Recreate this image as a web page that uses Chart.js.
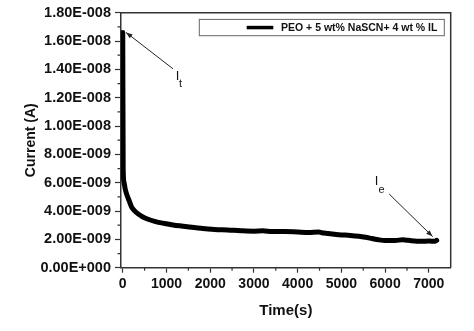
<!DOCTYPE html>
<html><head><meta charset="utf-8">
<script src="https://cdn.jsdelivr.net/npm/chart.js@4/dist/chart.umd.min.js"></script>
<style>html,body{margin:0;padding:0;background:#fff}#wrap{width:474px;height:331px;position:relative}</style>
</head><body><div id="wrap"><canvas id="c"></canvas></div>
<script>
// ---- data ----
const timeS = [0, 10, 30, 60, 100, 150, 200, 260, 350, 450, 580, 750, 960, 1150, 1340, 1520, 1720, 1900, 2100, 2400, 2700, 3000, 3200, 3420, 3700, 4000, 4250, 4480, 4550, 4700, 4940, 5200, 5400, 5550, 5700, 5850, 6000, 6230, 6400, 6460, 6600, 6830, 7000, 7140, 7180];
const currentA = [1.66e-8, 7.0e-9, 6.0e-9, 5.5e-9, 5.1e-9, 4.7e-9, 4.3e-9, 4.05e-9, 3.8e-9, 3.6e-9, 3.42e-9, 3.25e-9, 3.12e-9, 3.02e-9, 2.94e-9, 2.87e-9, 2.80e-9, 2.75e-9, 2.70e-9, 2.66e-9, 2.61e-9, 2.58e-9, 2.60e-9, 2.55e-9, 2.55e-9, 2.52e-9, 2.49e-9, 2.52e-9, 2.47e-9, 2.42e-9, 2.33e-9, 2.28e-9, 2.22e-9, 2.15e-9, 2.06e-9, 1.97e-9, 1.92e-9, 1.92e-9, 1.97e-9, 1.96e-9, 1.91e-9, 1.87e-9, 1.88e-9, 1.87e-9, 1.93e-9];
const seriesLabel = 'PEO + 5 wt% NaSCN+ 4 wt % IL';
const xTickValues = [0, 1000, 2000, 3000, 4000, 5000, 6000, 7000];
const xTickLabels = ['0', '1000', '2000', '3000', '4000', '5000', '6000', '7000'];
const xMinorTicks = [500, 1500, 2500, 3500, 4500, 5500, 6500];
const yTickValues = [0, 2e-9, 4e-9, 6e-9, 8e-9, 1e-8, 1.2e-8, 1.4e-8, 1.6e-8, 1.8e-8];
const yTickLabels = ['0.00E+000', '2.00E-009', '4.00E-009', '6.00E-009', '8.00E-009', '1.00E-008', '1.20E-008', '1.40E-008', '1.60E-008', '1.80E-008'];
const yMinorTicks = [1e-9, 3e-9, 5e-9, 7e-9, 9e-9, 1.1e-8, 1.3e-8, 1.5e-8, 1.7e-8];
const xTitle = 'Time(s)';
const yTitle = 'Current (A)';

const AXIS = '#333';
const FONT = 'Arial, "Liberation Sans", sans-serif';

const annotations = [
  {main: 'I', sub: 't', mainAt: [1251, 1.353e-8], subAt: [1320, 1.294e-8], tail: [1149, 1.404e-8], tip: [74, 1.661e-8]},
  {main: 'I', sub: 'e', mainAt: [5805, 6.08e-9], subAt: [5919, 5.5e-9], tail: [6093, 5.2e-9], tip: [7086, 2.2e-9]}
];

const extras = {
  id: 'extras',
  afterDatasetsDraw(chart) {
    const {ctx, chartArea: a, scales: {x, y}} = chart;
    ctx.save();
    // frame top / right
    ctx.strokeStyle = AXIS; ctx.lineWidth = 1.5;
    ctx.beginPath();
    ctx.moveTo(a.left, a.top); ctx.lineTo(a.right, a.top); ctx.lineTo(a.right, a.bottom);
    ctx.stroke();
    // minor ticks
    ctx.lineWidth = 1.2;
    ctx.beginPath();
    xMinorTicks.forEach(v => { const px = x.getPixelForValue(v); ctx.moveTo(px, a.bottom); ctx.lineTo(px, a.bottom + 3); });
    yMinorTicks.forEach(v => { const py = y.getPixelForValue(v); ctx.moveTo(a.left, py); ctx.lineTo(a.left - 3.5, py); });
    ctx.stroke();
    // annotations
    annotations.forEach(an => {
      const tx = x.getPixelForValue(an.tail[0]), ty = y.getPixelForValue(an.tail[1]);
      const hx = x.getPixelForValue(an.tip[0]), hy = y.getPixelForValue(an.tip[1]);
      ctx.strokeStyle = '#222'; ctx.fillStyle = '#222'; ctx.lineWidth = 1;
      ctx.beginPath(); ctx.moveTo(tx, ty); ctx.lineTo(hx, hy); ctx.stroke();
      const ang = Math.atan2(hy - ty, hx - tx), L = 7, W = 0.35;
      ctx.beginPath();
      ctx.moveTo(hx, hy);
      ctx.lineTo(hx - L * Math.cos(ang - W), hy - L * Math.sin(ang - W));
      ctx.lineTo(hx - L * Math.cos(ang + W), hy - L * Math.sin(ang + W));
      ctx.closePath(); ctx.fill();
      ctx.fillStyle = '#111';
      ctx.textAlign = 'center'; ctx.textBaseline = 'middle';
      ctx.font = '13px ' + FONT;
      ctx.fillText(an.main, x.getPixelForValue(an.mainAt[0]), y.getPixelForValue(an.mainAt[1]));
      ctx.font = '11px ' + FONT;
      ctx.fillText(an.sub, x.getPixelForValue(an.subAt[0]), y.getPixelForValue(an.subAt[1]));
    });
    // legend box
    const bw = 245, bh = 16.3;
    const bx = a.right - 6.4 - bw, by = a.top + 6.7;
    ctx.strokeStyle = '#666'; ctx.lineWidth = 1;
    ctx.strokeRect(bx, by, bw, bh);
    const ly = by + bh / 2;
    ctx.strokeStyle = '#000'; ctx.lineWidth = 3.5;
    ctx.beginPath(); ctx.moveTo(bx + 47.4, ly); ctx.lineTo(bx + 74, ly); ctx.stroke();
    ctx.fillStyle = '#111'; ctx.textAlign = 'left'; ctx.textBaseline = 'middle';
    ctx.font = 'bold 10.5px ' + FONT;
    ctx.fillText(chart.data.datasets[0].label, bx + 81.7, ly + 0.5);
    ctx.restore();
  }
};

new Chart(document.getElementById('c'), {
  type: 'line',
  data: {
    datasets: [{
      label: seriesLabel,
      data: timeS.map((t, i) => ({x: t, y: currentA[i]})),
      borderColor: '#000',
      backgroundColor: '#000',
      borderWidth: 5,
      pointRadius: 0,
      cubicInterpolationMode: 'monotone',
      borderCapStyle: 'round',
      borderJoinStyle: 'round'
    }]
  },
  options: {
    responsive: true,
    maintainAspectRatio: false,
    animation: false,
    devicePixelRatio: 1,
    layout: {padding: {left: 0, right: 23.3, top: 8, bottom: 0}},
    plugins: {legend: {display: false}, tooltip: {enabled: false}},
    scales: {
      x: {
        type: 'linear', min: -40, max: 7500,
        afterBuildTicks: s => { s.ticks = xTickValues.map(v => ({value: v})); },
        afterFit: s => { s.height = 63.3; },
        border: {display: true, color: AXIS, width: 1.5},
        grid: {display: true, drawOnChartArea: false, drawTicks: true, tickLength: 5, color: AXIS, tickWidth: 1.2},
        ticks: {color: '#111', padding: 3, maxRotation: 0, autoSkip: false, font: {family: FONT, size: 14, weight: 'bold'},
          callback: (v, i) => xTickLabels[i]},
        title: {display: true, text: xTitle, color: '#111', padding: {top: 0, bottom: 11}, font: {family: FONT, size: 15, weight: 'bold'}}
      },
      y: {
        type: 'linear', min: 0, max: 1.8e-8,
        afterBuildTicks: s => { s.ticks = yTickValues.map(v => ({value: v})); },
        afterFit: s => { s.width = 121; },
        border: {display: true, color: AXIS, width: 1.5},
        grid: {display: true, drawOnChartArea: false, drawTicks: true, tickLength: 6, color: AXIS, tickWidth: 1.2},
        ticks: {color: '#111', padding: 4, autoSkip: false, font: {family: FONT, size: 14.5, weight: 'bold'},
          callback: (v, i) => yTickLabels[i]},
        title: {display: true, text: yTitle, color: '#111', padding: {top: 22.6, bottom: 0}, font: {family: FONT, size: 14, weight: 'bold'}}
      }
    }
  },
  plugins: [extras]
});
</script>
</body></html>
